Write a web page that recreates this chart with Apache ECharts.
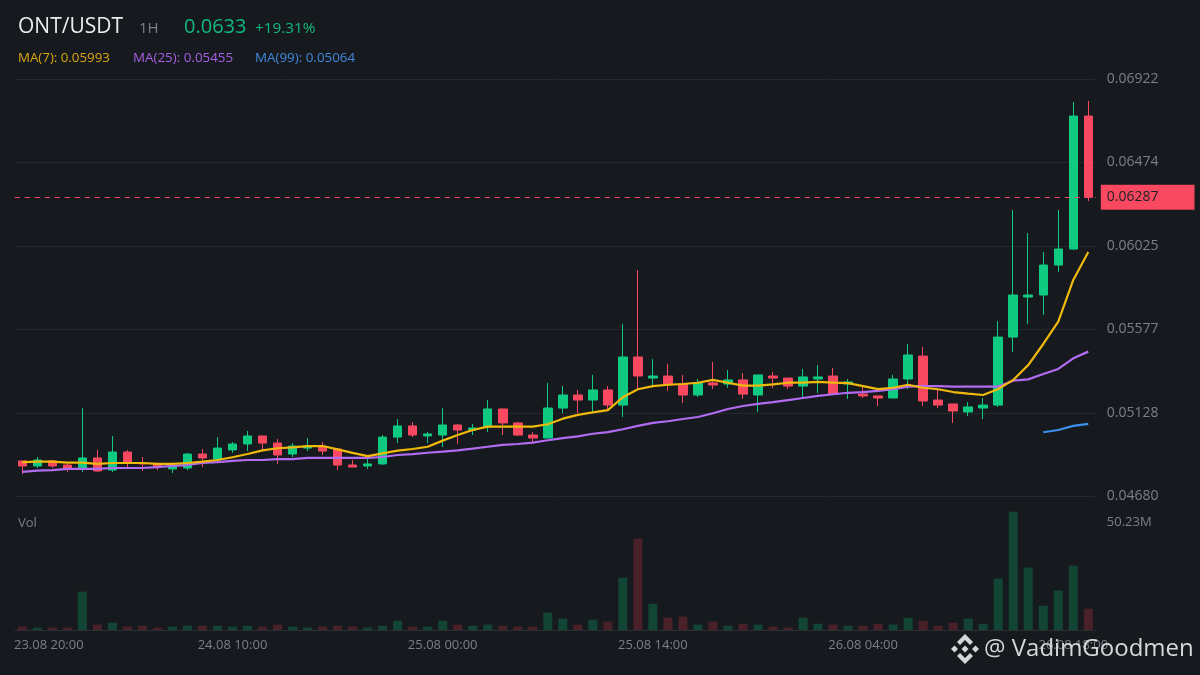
<!DOCTYPE html>
<html><head><meta charset="utf-8">
<style>html,body{margin:0;padding:0;background:#161a1e}#c{width:1200px;height:675px}</style>
<script src="https://cdn.jsdelivr.net/npm/echarts@6/dist/echarts.min.js"></script>
</head><body><div id="c"></div>
<script>
const startLabels = {0:'23.08 20:00',14:'24.08 10:00',28:'25.08 00:00',42:'25.08 14:00',56:'26.08 04:00',70:'26.08 18:00'};
const priceTicks = [0.0468,0.05128,0.05577,0.06025,0.06474,0.06922];
const lastPrice = 0.06287;
const opens = [4871,4844,4871,4849,4833,4887,4822,4919,4860,4855,4828,4833,4908,4881,4930,4962,5005,4967,4908,4940,4951,4935,4849,4844,4855,4999,5059,5005,5010,5064,5037,5053,5150,5075,5010,4994,5155,5225,5198,5252,5171,5429,5316,5327,5284,5225,5290,5284,5306,5225,5327,5316,5273,5311,5327,5284,5230,5220,5209,5311,5434,5198,5177,5134,5155,5171,5536,5751,5762,5923,6009,6723];
const closes = [4844,4876,4844,4833,4887,4817,4919,4860,4855,4838,4844,4908,4887,4940,4962,5005,4967,4903,4951,4951,4924,4849,4838,4855,4999,5059,5010,5016,5064,5037,5048,5150,5075,5010,4994,5155,5225,5198,5252,5171,5429,5327,5327,5279,5225,5290,5279,5306,5230,5333,5316,5273,5322,5322,5230,5295,5220,5209,5311,5440,5193,5171,5139,5161,5171,5536,5762,5762,5923,6009,6723,6287];
const lows = [4801,4833,4833,4812,4812,4812,4812,4833,4817,4822,4806,4822,4838,4871,4914,4924,4930,4855,4892,4924,4903,4822,4838,4828,4849,4967,4999,4967,4946,4962,5010,5026,5010,5005,4973,4994,5128,5128,5128,5150,5107,5252,5273,5247,5182,5214,5257,5263,5204,5134,5263,5257,5214,5236,5230,5204,5209,5166,5209,5257,5166,5155,5075,5112,5096,5161,5456,5606,5655,5886,6004,6267];
const highs = [4871,4892,4876,4855,5155,4930,5005,4930,4892,4860,4849,4914,4935,4999,4973,5032,5005,4989,4967,4994,4973,4935,4876,4881,5010,5096,5080,5026,5155,5069,5069,5198,5150,5080,5026,5290,5273,5252,5333,5273,5606,5896,5418,5392,5333,5311,5402,5359,5343,5333,5349,5316,5365,5386,5370,5311,5273,5220,5333,5499,5483,5252,5177,5187,5209,5622,6218,6095,5993,6218,6798,6804];
const volumes = [1.55,1.1,1.1,1.1,17.8,2.5,3.4,1.55,2.0,1.1,1.55,2.0,2.0,2.0,1.55,2.0,1.55,2.5,1.55,1.1,1.55,2.0,1.55,1.1,2.0,4.3,1.55,1.55,4.3,2.5,2.0,2.5,2.0,1.55,1.55,8.1,5.3,2.5,4.8,3.9,24.3,42.5,12.2,5.7,6.2,2.5,3.9,2.0,2.9,2.5,1.55,1.1,5.7,2.9,2.5,2.0,2.0,2.9,2.5,5.7,4.3,2.0,3.4,5.3,2.9,23.9,55.0,29.0,11.3,18.3,29.9,9.9];
const ma7 = [4865,4867,4867,4862,4862,4855,4860,4860,4860,4855,4855,4860,4867,4876,4891,4908,4928,4939,4944,4951,4951,4933,4914,4897,4912,4926,4935,4947,4980,5010,5037,5055,5055,5055,5055,5068,5098,5118,5132,5144,5213,5256,5273,5280,5284,5291,5306,5291,5275,5275,5282,5291,5291,5296,5291,5289,5273,5257,5264,5280,5264,5256,5241,5232,5225,5257,5306,5386,5499,5619,5843,5993];
const ma25 = [4812,4819,4822,4828,4828,4828,4833,4833,4833,4838,4844,4849,4860,4865,4871,4876,4876,4881,4881,4887,4887,4887,4887,4887,4892,4903,4908,4915,4921,4928,4937,4947,4957,4962,4969,4982,4993,5003,5017,5026,5041,5059,5075,5084,5096,5107,5127,5150,5166,5177,5187,5198,5209,5220,5229,5237,5240,5247,5256,5270,5273,5273,5270,5270,5270,5270,5302,5309,5338,5365,5422,5458];
const ma99Tail = [5025,5037,5059,5070];

const toPrice = v => v / 100000;
const categories = opens.map((_, i) => startLabels[i] || String(i));
const candleData = opens.map((o, i) => [o, closes[i], lows[i], highs[i]].map(toPrice));
const ma99 = opens.map((_, i) => i >= opens.length - ma99Tail.length ? toPrice(ma99Tail[i - (opens.length - ma99Tail.length)]) : null);
const UP = '#0ecb81', DOWN = '#f84960', GRAY = '#7b8088', GRID = '#25282d';
const FONT = '"Open Sans", sans-serif';

function txt(x, y, text, size, fill, extra) {
  return Object.assign({type:'text', x, y, silent:true, style:{text, fontSize:size, fontFamily:FONT, fill, textVerticalAlign:'middle'}}, extra||{});
}
const cx = 965, cy = 649, LOGO = '#d6d7d9';
function poly(pts){ return {type:'polygon', silent:true, z:50, shape:{points:pts.map(p=>[cx+p[0],cy+p[1]])}, style:{fill:LOGO}}; }

const chart = echarts.init(document.getElementById('c'), null, {renderer:'canvas'});
chart.setOption({
  animation:false,
  backgroundColor:'#161a1e',
  grid:[
    {left:14.8, width:1081, top:79, height:417.5},
    {left:14.8, width:1081, top:511, height:119}
  ],
  xAxis:[
    {type:'category', gridIndex:0, data:categories, axisLine:{show:false}, axisTick:{show:false}, axisLabel:{show:false}, splitLine:{show:false}},
    {type:'category', gridIndex:1, data:categories, axisLine:{show:true, lineStyle:{color:'#2b2e33', width:1}}, axisTick:{show:false}, splitLine:{show:false},
      axisLabel:{interval:13, margin:9, fontSize:13, fontFamily:FONT, color:GRAY, hideOverlap:false,
        formatter:(v,i)=> i===0 ? '{first|'+v+'}' : v,
        rich:{first:{padding:[0,0,0,53], fontSize:13, fontFamily:FONT, color:GRAY}}}}
  ],
  yAxis:[
    {type:'value', gridIndex:0, position:'right', min:0.0468, max:0.06922, scale:true,
      axisLine:{show:false}, axisTick:{show:false, customValues:priceTicks},
      axisLabel:{customValues:priceTicks, margin:11, fontSize:14, fontFamily:FONT, color:GRAY, formatter:v=>v.toFixed(5)},
      splitLine:{show:true, lineStyle:{color:GRID, width:1}}},
    {type:'value', gridIndex:1, position:'right', min:0, max:55.3,
      axisLine:{show:false}, axisTick:{show:false, customValues:[50.23]},
      axisLabel:{customValues:[50.23], margin:11, fontSize:13, fontFamily:FONT, color:GRAY, formatter:v=>v.toFixed(2)+'M'},
      splitLine:{show:false}}
  ],
  series:[
    {type:'bar', name:'Vol', xAxisIndex:1, yAxisIndex:1, barWidth:9,
      data:volumes.map((v,i)=>({value:v, itemStyle:{color: closes[i] >= opens[i] ? '#134535' : '#4a2129'}}))},
    {type:'candlestick', name:'ONT/USDT', xAxisIndex:0, yAxisIndex:0, barWidth:9, data:candleData,
      itemStyle:{color:UP, color0:DOWN, borderColor:UP, borderColor0:DOWN, borderWidth:1}},
    {type:'line', name:'MA(7)', xAxisIndex:0, yAxisIndex:0, data:ma7.map(toPrice), showSymbol:false, z:5, lineStyle:{color:'#f0b90b', width:2.2}, itemStyle:{color:'#f0b90b'}},
    {type:'line', name:'MA(25)', xAxisIndex:0, yAxisIndex:0, data:ma25.map(toPrice), showSymbol:false, z:4, lineStyle:{color:'#b26cf2', width:2.2}, itemStyle:{color:'#b26cf2'},
      markLine:{silent:true, symbol:'none', animation:false, precision:5,
        lineStyle:{color:DOWN, type:[5,5], width:1},
        label:{show:true, position:'end', distance:5, formatter:lastPrice.toFixed(5), fontSize:14, fontFamily:FONT, color:'#1d1f24', backgroundColor:DOWN, padding:[6,36,5,6]},
        data:[{yAxis:lastPrice}]}},
    {type:'line', name:'MA(99)', xAxisIndex:0, yAxisIndex:0, data:ma99, showSymbol:false, z:4, connectNulls:false, lineStyle:{color:'#3d8ff0', width:2.2}, itemStyle:{color:'#3d8ff0'}}
  ],
  graphic:[
    txt(18,27,'ONT/USDT',21,'#eaecef'),
    txt(139,29,'1H',15,GRAY),
    txt(184,27,'0.0633',20,'#11b97c'),
    txt(255,29,'+19.31%',15.3,'#11b97c'),
    txt(18,58,'MA(7): 0.05993',13.3,'#dba60f'),
    txt(133,58,'MA(25): 0.05455',13.4,'#a560e3'),
    txt(255,58,'MA(99): 0.05064',13.4,'#4288dc'),
    txt(18,523,'Vol',13,GRAY),
    txt(984,649,'@ VadimGoodmen',24,'#d6d7d9',{z:50}),
    poly([[0,-15],[8,-7],[5,-4],[0,-9],[-5,-4],[-8,-7]]),
    poly([[0,15],[8,7],[5,4],[0,9],[-5,4],[-8,7]]),
    poly([[-14,0],[-10.5,-3.5],[-7,0],[-10.5,3.5]]),
    poly([[14,0],[10.5,-3.5],[7,0],[10.5,3.5]]),
    poly([[0,-3.5],[3.5,0],[0,3.5],[-3.5,0]])
  ]
});
</script></body></html>
